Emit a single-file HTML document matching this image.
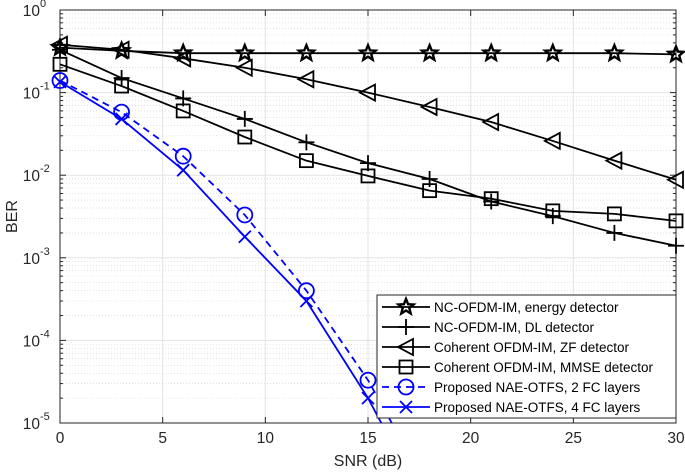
<!DOCTYPE html>
<html><head><meta charset="utf-8"><style>
html,body{margin:0;padding:0;background:#fff;font-family:"Liberation Sans",sans-serif;overflow:hidden;width:685px;height:475px}
svg{display:block}
svg text{font-family:"Liberation Sans",sans-serif}
</style></head><body>
<svg id="c" width="685" height="475"></svg>
<script>
const snr=[0,3,6,9,12,15,18,21,24,27,30];
const energyBer=[0.35,0.32,0.30,0.30,0.30,0.30,0.30,0.30,0.30,0.30,0.29];
const dlBer=[0.33,0.15,0.085,0.048,0.025,0.014,0.009,0.0048,0.0032,0.002,0.0014];
const zfBer=[0.38,0.33,0.26,0.2,0.145,0.1,0.067,0.044,0.026,0.015,0.0088];
const mmseBer=[0.22,0.12,0.06,0.029,0.015,0.0098,0.0065,0.0052,0.0037,0.0034,0.0028];
const nae2Ber=[0.14,0.058,0.017,0.0033,0.0004,0.000033,0.0000015];
const nae4Ber=[0.135,0.048,0.0115,0.0018,0.0003,0.00002,0.0000008];
const xTicks=[0,5,10,15,20,25,30];
const yTickExp=[0,-1,-2,-3,-4,-5];
const legendLabels=["NC-OFDM-IM, energy detector","NC-OFDM-IM, DL detector","Coherent OFDM-IM, ZF detector","Coherent OFDM-IM, MMSE detector","Proposed NAE-OTFS, 2 FC layers","Proposed NAE-OTFS, 4 FC layers"];

const NS="http://www.w3.org/2000/svg";
const svg=document.getElementById('c');
const L=60,R=676,T=10,B=423;
const YMIN=1e-5;
const X=v=>L+(v-0)/30*(R-L);
const Y=v=>T+(0-Math.log10(v))/5*(B-T);
function el(t,a,p){const e=document.createElementNS(NS,t);for(const k in a)e.setAttribute(k,a[k]);(p||svg).appendChild(e);return e;}
const grid=el('g',{});


for(const t of xTicks){el('line',{x1:X(t),x2:X(t),y1:T,y2:B,stroke:'#e3e3e3','stroke-width':1},grid);}
for(const e of yTickExp){el('line',{x1:L,x2:R,y1:Y(10**e),y2:Y(10**e),stroke:'#e3e3e3','stroke-width':1},grid);
 if(e>-5)for(let m=2;m<10;m++){const y=Y(m*10**(e-1));el('line',{x1:L,x2:R,y1:y,y2:y,stroke:'#d0d0d0','stroke-width':0.6,'stroke-dasharray':'1,2'},grid);}}
const box=el('rect',{x:L,y:T,width:R-L,height:B-T,fill:'none',stroke:'#262626','stroke-width':1});


for(const t of xTicks){el('line',{x1:X(t),x2:X(t),y1:B,y2:B-6,stroke:'#262626'});el('line',{x1:X(t),x2:X(t),y1:T,y2:T+6,stroke:'#262626'});
 const tx=el('text',{x:X(t),y:B+20,'text-anchor':'middle','font-size':15.5,fill:'#262626'});tx.textContent=t;
 
 }
for(const e of yTickExp){const y=Y(10**e);el('line',{x1:L,x2:L+6,y1:y,y2:y,stroke:'#262626'});el('line',{x1:R,x2:R-6,y1:y,y2:y,stroke:'#262626'});
 for(let m=2;m<10&&e>-5;m++){const yy=Y(m*10**(e-1));el('line',{x1:L,x2:L+3,y1:yy,y2:yy,stroke:'#262626'});el('line',{x1:R,x2:R-3,y1:yy,y2:yy,stroke:'#262626'});}
 const tx=el('text',{x:L-20,y:y+6,'text-anchor':'end','font-size':15.5,fill:'#262626'});tx.textContent='10';
 
 
 const sp=el('text',{x:L-20,y:y-3,'text-anchor':'start','font-size':11,fill:'#262626'});sp.textContent=String(e);}
const xl=el('text',{x:(L+R)/2,y:466,'text-anchor':'middle','font-size':16,fill:'#262626'});xl.textContent='SNR (dB)';


const yl=el('text',{x:0,y:0,transform:`translate(17,${(T+B)/2}) rotate(-90)`,'text-anchor':'middle','font-size':16,fill:'#262626'});yl.textContent='BER';



function marker(g,type,x,y,col){
 const s={fill:'none',stroke:col,'stroke-width':1.8};
 if(type==='star'){let p=[];for(let i=0;i<10;i++){const r=i%2?3.5:8,a=-Math.PI/2+i*Math.PI/5;p.push((x+r*Math.cos(a)).toFixed(1)+','+(y+r*Math.sin(a)).toFixed(1));}el('polygon',Object.assign({points:p.join(' ')},s,{'stroke-width':2.4}),g);}
 if(type==='plus'){el('path',Object.assign({d:`M${x-8},${y}H${x+8}M${x},${y-8}V${y+8}`},s),g);}
 if(type==='tri'){el('polygon',Object.assign({points:`${x-8},${y} ${x+7},${y-8} ${x+7},${y+8}`},s),g);}
 if(type==='sq'){el('rect',Object.assign({x:x-6.5,y:y-6.5,width:13,height:13},s),g);}
 if(type==='circ'){el('circle',Object.assign({cx:x,cy:y,r:7.5},s),g);}
 if(type==='x'){el('path',Object.assign({d:`M${x-6},${y-6}L${x+6},${y+6}M${x-6},${y+6}L${x+6},${y-6}`},s),g);}
}
// build polyline points clipped at the bottom axis (log-space interpolation)
function clippedPts(d){
 const pts=[];
 for(let i=0;i<d.length;i++){
  if(d[i]>=YMIN){pts.push([X(snr[i]),Y(d[i])]);continue;}
  if(i>0&&d[i-1]>=YMIN){
   const a=Math.log10(d[i-1]),b=Math.log10(d[i]),f=(Math.log10(YMIN)-a)/(b-a);
   pts.push([X(snr[i-1]+f*(snr[i]-snr[i-1])),B]);
  }
  break;
 }
 return pts;
}
const series=[[energyBer,'star','#000','','series-energy'],[dlBer,'plus','#000','','series-dl'],[zfBer,'tri','#000','','series-zf'],[mmseBer,'sq','#000','','series-mmse'],[nae2Ber,'circ','#0000ff','7,5','series-nae-2fc'],[nae4Ber,'x','#0000ff','','series-nae-4fc']];
for(const [d,m,c,da,name] of series){
 const g=el('g',{});
 
 
 el('polyline',{points:clippedPts(d).map(p=>p[0]+','+p[1]).join(' '),fill:'none',stroke:c,'stroke-width':1.8,'stroke-dasharray':da},g);
 d.forEach((v,i)=>{if(v>=YMIN)marker(g,m,X(snr[i]),Y(v),c);});
}
const lg=el('g',{});


el('rect',{x:377,y:295,width:299,height:123,fill:'#fff',stroke:'#262626','stroke-width':1},lg);
series.forEach((s,i)=>{const y=307+i*20;
 el('line',{x1:382,x2:430,y1:y,y2:y,stroke:s[2],'stroke-width':1.8,'stroke-dasharray':s[3]},lg);
 marker(lg,s[1],406,y,s[2]);
 const t=el('text',{x:434,y:y+5,'font-size':13.5,fill:'#000'},lg);t.textContent=legendLabels[i];
 
 
});
</script>
</body></html>
